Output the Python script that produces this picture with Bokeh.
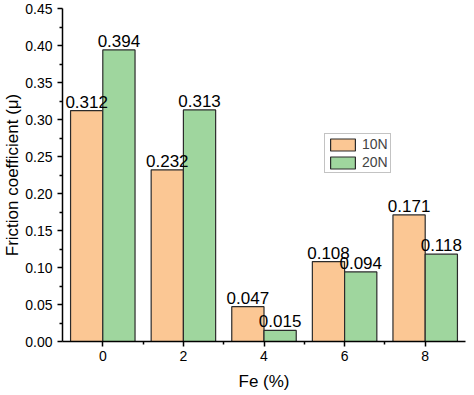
from bokeh.plotting import figure
from bokeh.models import ColumnDataSource, Legend, LegendItem, FixedTicker, NumeralTickFormatter, Range1d
from bokeh.transform import dodge
from bokeh.core.properties import value
from bokeh.embed import file_html
from bokeh.resources import INLINE

fe = [0, 2, 4, 6, 8]
mu_10n = [0.312, 0.232, 0.047, 0.108, 0.171]
mu_20n = [0.394, 0.313, 0.015, 0.094, 0.118]
series_names = ["10N", "20N"]
colors = ["#FBC794", "#9FD69E"]
y_ticks = [0.00, 0.05, 0.10, 0.15, 0.20, 0.25, 0.30, 0.35, 0.40, 0.45]

src = ColumnDataSource(dict(
    x=fe, a=mu_10n, b=mu_20n,
    la=[f"{v:.3f}" for v in mu_10n],
    lb=[f"{v:.3f}" for v in mu_20n],
))

FONT = "Liberation Sans"

p = figure(width=466, height=395, output_backend="svg", toolbar_location=None,
           x_range=Range1d(-1, 9), y_range=Range1d(0, 0.45),
           min_border_left=53, min_border_right=1, min_border_top=8, min_border_bottom=54)
p.outline_line_color = None
p.xgrid.visible = False
p.ygrid.visible = False

bw = 0.8
r1 = p.vbar(x=dodge("x", -0.4, range=p.x_range), top="a", width=bw, source=src,
            fill_color=colors[0], line_color="#2b2b2b", line_width=1.2)
r2 = p.vbar(x=dodge("x", 0.4, range=p.x_range), top="b", width=bw, source=src,
            fill_color=colors[1], line_color="#2b2b2b", line_width=1.2)

p.text(x=dodge("x", -0.4, range=p.x_range), y="a", text="la", source=src,
       text_align="center", text_baseline="bottom", text_font=value(FONT),
       text_font_size="17px", text_color="black", y_offset=-3)
p.text(x=dodge("x", 0.4, range=p.x_range), y="b", text="lb", source=src,
       text_align="center", text_baseline="bottom", text_font=value(FONT),
       text_font_size="17px", text_color="black", y_offset=-3)

for ax in (p.xaxis[0], p.yaxis[0]):
    ax.axis_line_width = 1.5
    ax.axis_line_color = "black"
    ax.major_tick_line_width = 1.5
    ax.minor_tick_line_width = 1.5
    ax.major_tick_line_color = "black"
    ax.minor_tick_line_color = "black"
    ax.major_tick_out = 5
    ax.major_tick_in = 0
    ax.minor_tick_out = 3
    ax.minor_tick_in = 0
    ax.major_label_text_font = FONT
    ax.major_label_text_font_size = "14px"
    ax.major_label_text_color = "black"
    ax.axis_label_text_font = FONT
    ax.axis_label_text_font_size = "17px"
    ax.axis_label_text_font_style = "normal"
    ax.axis_label_text_color = "black"

p.xaxis.ticker = FixedTicker(ticks=fe, minor_ticks=[1, 3, 5, 7])
p.xaxis.axis_label = "Fe (%)"
p.xaxis.major_label_standoff = 4
p.xaxis.axis_label_standoff = 8

minor_y = [round(0.025 + 0.05 * i, 3) for i in range(9)]
p.yaxis.ticker = FixedTicker(ticks=y_ticks, minor_ticks=minor_y)
p.yaxis.formatter = NumeralTickFormatter(format="0.00")
p.yaxis.axis_label = "Friction coefficient (μ)"
p.yaxis.major_label_standoff = 5
p.yaxis.axis_label_standoff = 0

legend = Legend(items=[LegendItem(label=series_names[0], renderers=[r1]),
                       LegendItem(label=series_names[1], renderers=[r2])],
                location=(262, 168))
legend.glyph_width = 31
legend.glyph_height = 15
legend.label_height = 15
legend.label_standoff = 4
legend.spacing = 2
legend.padding = 2
legend.margin = 0
legend.label_text_font = FONT
legend.label_text_font_size = "14px"
legend.border_line_color = "#888888"
legend.border_line_width = 1
legend.background_fill_alpha = 1
p.add_layout(legend)

open("out.html", "w").write(file_html(p, INLINE))
